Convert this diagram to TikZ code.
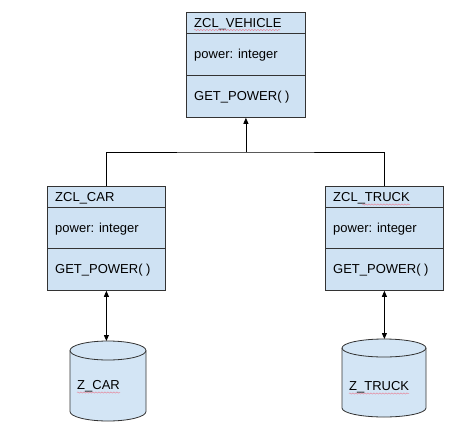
\documentclass[tikz,border=0pt]{standalone}
\usepackage{fontspec}
\setmainfont{Liberation Sans}
\usetikzlibrary{arrows.meta,decorations.pathmorphing}
\definecolor{boxfill}{HTML}{CFE2F3}
\definecolor{cylfill}{HTML}{D3E5F5}
\definecolor{squig}{HTML}{E58A9E}
\definecolor{edge}{HTML}{333333}
\begin{document}
\begin{tikzpicture}[x=1pt,y=-1pt,
  umlbox/.style={draw=edge,fill=boxfill,line width=0.8pt,inner sep=0pt,anchor=north west},
  lbl/.style={font=\fontsize{13}{15}\selectfont,inner sep=0pt,anchor=base west},
  divider/.style={draw=edge,line width=0.8pt},
  conn/.style={draw=black,line width=0.8pt},
  tipA/.style={-{Triangle[width=5pt,length=6pt]}},
  tipB/.style={{Triangle[width=5pt,length=6pt]}-{Triangle[width=5pt,length=6pt]}},
  cyl/.style={draw=edge,fill=cylfill,line width=0.8pt},
  wavy/.style={draw=squig,line width=0.5pt,decorate,decoration={snake,amplitude=0.6pt,segment length=3pt}}]
\useasboundingbox (0,0) rectangle (474,437);
\fill[white] (0,0) rectangle (474,437);

% ZCL_VEHICLE
\node[umlbox,minimum width=119pt,minimum height=105pt] (veh) at (186,12) {};
\draw[divider] (186,33) -- (305,33);
\draw[divider] (186,75) -- (305,75);
\node[lbl] (vehT) at (194,27) {ZCL\_VEHICLE};
\node[lbl] (vehA) at (194,58.5) {power: integer};
\node[lbl] (vehM) at (194,100.5) {GET\_POWER( )};
\draw[wavy] (194,30) -- (280,30);

% ZCL_CAR
\node[umlbox,minimum width=118pt,minimum height=104pt] (car) at (47,186) {};
\draw[divider] (47,207) -- (165,207);
\draw[divider] (47,248) -- (165,248);
\node[lbl] (carT) at (55,201.5) {ZCL\_CAR};
\node[lbl] (carA) at (55,232.5) {power: integer};
\node[lbl] (carM) at (55,273.5) {GET\_POWER( )};

% ZCL_TRUCK
\node[umlbox,minimum width=118pt,minimum height=104pt] (truck) at (325,186) {};
\draw[divider] (325,207) -- (443,207);
\draw[divider] (325,248) -- (443,248);
\node[lbl] (truckT) at (333,201.5) {ZCL\_TRUCK};
\node[lbl] (truckA) at (333,232.5) {power: integer};
\node[lbl] (truckM) at (333,273.5) {GET\_POWER( )};
\draw[wavy] (362,204.5) -- (410,204.5);

% inheritance connector
\coordinate (junc) at (veh.south |- 0,152);
\draw[conn] (car.north) |- (junc) -| (truck.north);
\draw[conn,tipA] (junc) -- (veh.south);

% cylinders
\draw[cyl] (70,350.5) -- (70,411.5) arc[start angle=180,end angle=0,x radius=38,y radius=9.5]
  -- (146,350.5) arc[start angle=0,end angle=-180,x radius=38,y radius=9.5] -- cycle;
\draw[edge,line width=0.8pt] (70,350.5) arc[start angle=180,end angle=0,x radius=38,y radius=9.5];
\coordinate (carcyl) at (108,341);
\node[lbl] (carC) at (77,389) {Z\_CAR};
\draw[wavy] (77,392.5) -- (120,392.5);

\draw[cyl] (342,348) -- (342,408) arc[start angle=180,end angle=0,x radius=42,y radius=9]
  -- (426,348) arc[start angle=0,end angle=-180,x radius=42,y radius=9] -- cycle;
\draw[edge,line width=0.8pt] (342,348) arc[start angle=180,end angle=0,x radius=42,y radius=9];
\coordinate (truckcyl) at (384,339);
\node[lbl] (truckC) at (349,390) {Z\_TRUCK};
\draw[wavy] (349,393.5) -- (409,393.5);

% association arrows
\draw[conn,tipB] (car.south) -- (car.south |- carcyl);
\draw[conn,tipB] (truck.south) -- (truck.south |- truckcyl);
\end{tikzpicture}
\end{document}
